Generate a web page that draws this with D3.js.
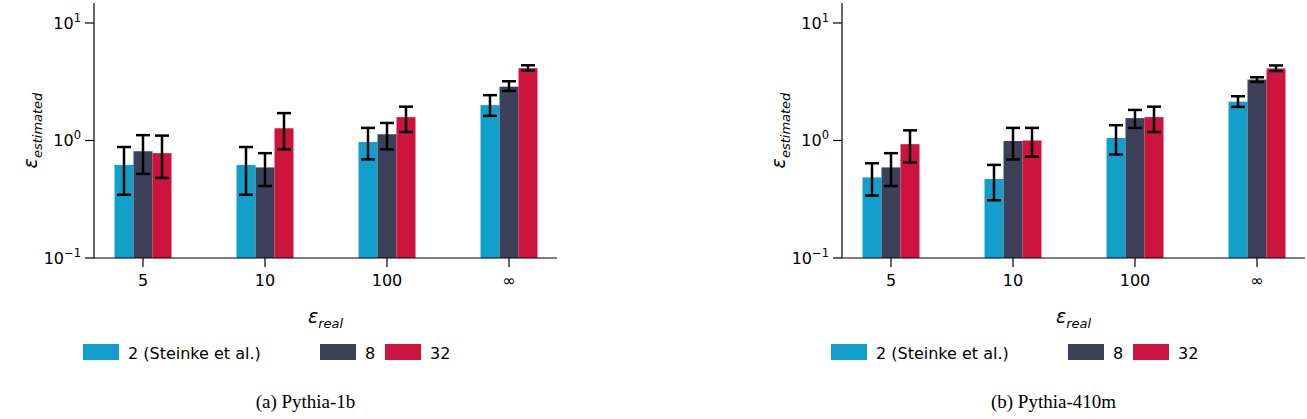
<!DOCTYPE html>
<html><head><meta charset="utf-8">
<script src="https://cdn.jsdelivr.net/npm/d3@7"></script>
<style>body{margin:0;background:#fff}text{font-family:"DejaVu Sans",sans-serif}</style>
</head><body><svg id="c" width="1307" height="419"></svg>
<script>
var categories = ['5', '10', '100', '\u221e'];
var seriesNames = ['2 (Steinke et al.)', '8', '32'];
var colors = ['#139fcb', '#3d4059', '#cc143f'];
var yTicks = [0.1, 1, 10];
var tickLabels = ['-1', '0', '1'];

// pythia-1b: [value, low, high] per series per category
var p1b_2 = [[0.62, 0.345, 0.88], [0.62, 0.345, 0.88], [0.97, 0.69, 1.28], [2.0, 1.62, 2.43]];
var p1b_8 = [[0.81, 0.52, 1.11], [0.59, 0.41, 0.78], [1.13, 0.84, 1.41], [2.87, 2.64, 3.19]];
var p1b_32 = [[0.78, 0.48, 1.10], [1.27, 0.84, 1.71], [1.58, 1.18, 1.94], [4.12, 3.93, 4.37]];
// pythia-410m
var p410_2 = [[0.485, 0.34, 0.64], [0.47, 0.31, 0.62], [1.05, 0.76, 1.35], [2.14, 1.93, 2.38]];
var p410_8 = [[0.59, 0.41, 0.78], [0.99, 0.69, 1.28], [1.55, 1.28, 1.82], [3.3, 3.15, 3.45]];
var p410_32 = [[0.93, 0.65, 1.22], [1.0, 0.73, 1.28], [1.58, 1.18, 1.94], [4.1, 3.9, 4.35]];

var svg = d3.select('#c');

function panel(x0, data, caption) {
  var g = svg.append('g').attr('transform', 'translate(' + x0 + ',0)');
  var w = 463, top = 3, bottom = 258;
  var y = d3.scaleLog().domain([0.1, Math.pow(10, 1.17)]).range([bottom, top]);
  var x = d3.scaleBand().domain(categories).range([0, 488]).paddingInner(0);
  var cx = function (c) { return x(c) + x.bandwidth() / 2 - 12; };
  var bw = 19;

  data.forEach(function (s, si) {
    s.forEach(function (d, ci) {
      var xc = cx(categories[ci]) + (si - 1) * bw;
      g.append('rect').attr('x', xc - bw / 2).attr('width', bw)
        .attr('y', y(d[0])).attr('height', bottom - y(d[0])).attr('fill', colors[si]);
    });
  });
  data.forEach(function (s, si) {
    s.forEach(function (d, ci) {
      var xc = cx(categories[ci]) + (si - 1) * bw;
      g.append('line').attr('x1', xc).attr('x2', xc).attr('y1', y(d[1])).attr('y2', y(d[2]))
        .attr('stroke', '#000').attr('stroke-width', 2.5);
      [d[1], d[2]].forEach(function (v) {
        g.append('line').attr('x1', xc - 7).attr('x2', xc + 7).attr('y1', y(v)).attr('y2', y(v))
          .attr('stroke', '#000').attr('stroke-width', 2.5);
      });
    });
  });

  // axes
  g.append('line').attr('x1', 0).attr('x2', 0).attr('y1', top).attr('y2', bottom).attr('stroke', '#000').attr('stroke-width', 1.2);
  g.append('line').attr('x1', 0).attr('x2', w).attr('y1', bottom).attr('y2', bottom).attr('stroke', '#000').attr('stroke-width', 1.2);
  yTicks.forEach(function (t, i) {
    g.append('line').attr('x1', -9).attr('x2', 0).attr('y1', y(t)).attr('y2', y(t)).attr('stroke', '#000').attr('stroke-width', 1.2);
    var tx = g.append('text').attr('x', -13).attr('y', y(t) + 6).attr('text-anchor', 'end').attr('font-size', 16);
    tx.append('tspan').text('10');
    tx.append('tspan').attr('dy', -7).attr('font-size', 11.5).text(tickLabels[i].replace('-', '\u2212'));
  });
  categories.forEach(function (c) {
    g.append('line').attr('x1', cx(c)).attr('x2', cx(c)).attr('y1', bottom).attr('y2', bottom + 9).attr('stroke', '#000').attr('stroke-width', 1.2);
    g.append('text').attr('x', cx(c)).attr('y', bottom + 28).attr('text-anchor', 'middle').attr('font-size', 16).text(c);
  });

  var xl = g.append('text').attr('x', w / 2).attr('y', 323).attr('text-anchor', 'middle').attr('font-size', 19).attr('font-style', 'italic');
  xl.append('tspan').text('\u03b5');
  xl.append('tspan').attr('dy', 5).attr('font-size', 13).text('real');
  var yl = g.append('text').attr('transform', 'translate(-57,' + ((top + bottom) / 2) + ') rotate(-90)')
    .attr('text-anchor', 'middle').attr('font-size', 19).attr('font-style', 'italic');
  yl.append('tspan').text('\u03b5');
  yl.append('tspan').attr('dy', 5).attr('font-size', 13).text('estimated');

  // legend
  var lx = -11;
  var offs = [0, 237, 302];
  seriesNames.forEach(function (n, i) {
    g.append('rect').attr('x', lx + offs[i]).attr('y', 344).attr('width', 36).attr('height', 16).attr('fill', colors[i]);
    g.append('text').attr('x', lx + offs[i] + 45).attr('y', 359).attr('font-size', 16).text(n);
  });

  svg.append('text').attr('x', x0 + w / 2 - 20).attr('y', 408).attr('text-anchor', 'middle')
    .attr('font-size', 19).style('font-family', '"Liberation Serif",serif').text(caption);
}

panel(94, [p1b_2, p1b_8, p1b_32], '(a) Pythia-1b');
panel(842, [p410_2, p410_8, p410_32], '(b) Pythia-410m');
</script></body></html>
